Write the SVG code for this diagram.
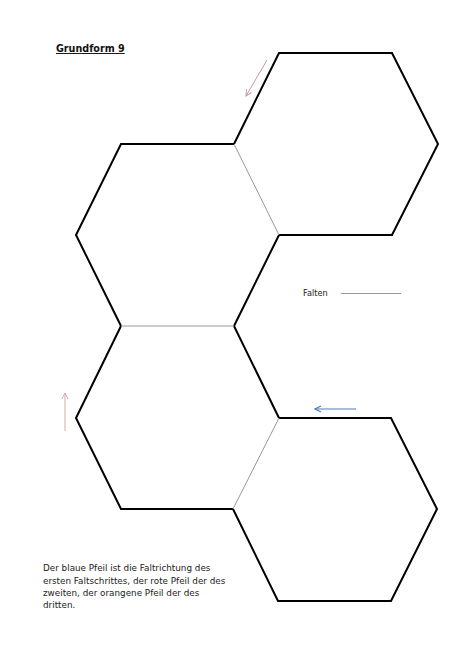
<svg xmlns="http://www.w3.org/2000/svg" width="474" height="670" viewBox="0 0 474 670">
<style>
.edge{fill:none;stroke:#000;stroke-width:2;stroke-linejoin:miter}
.fold{fill:none;stroke:#999;stroke-width:1}
.t{font-family:"DejaVu Sans",Verdana,sans-serif;font-size:8.2px;fill:#222}
.n{font-family:"DejaVu Sans",Verdana,sans-serif;font-size:8.8px;fill:#222}
</style>
<defs>
<marker id="ahR" markerWidth="8" markerHeight="8" refX="7" refY="4" orient="auto" markerUnits="userSpaceOnUse"><path d="M1,1 L7,4 L1,7" fill="none" stroke="#c49a9a" stroke-width="1"/></marker>
<marker id="ahP" markerWidth="8" markerHeight="8" refX="7" refY="4" orient="auto" markerUnits="userSpaceOnUse"><path d="M1,1 L7,4 L1,7" fill="none" stroke="#d9a9ac" stroke-width="1"/></marker>
<marker id="ahB" markerWidth="8" markerHeight="8" refX="7" refY="4" orient="auto" markerUnits="userSpaceOnUse"><path d="M1,1 L7,4 L1,7" fill="none" stroke="#4f7fb0" stroke-width="1.2"/></marker>
</defs>
<rect width="474" height="670" fill="#fff"/>
<text x="56" y="52" font-family="DejaVu Sans,Verdana,sans-serif" font-size="9.6" font-weight="bold" text-decoration="underline" fill="#111">Grundform 9</text>
<g id="hexA"><path class="edge" d="M234,144 L279,53 L392,53 L438,144 L392,235 L279,235"/></g>
<g id="hexB"><path class="edge" d="M234,144 L121,144 L76,235 L121,326 M234,326 L279,235"/></g>
<g id="hexC"><path class="edge" d="M121,326 L76,418 L121,509 L233,509 M234,326 L279,418"/></g>
<g id="hexD"><path class="edge" d="M279,418 L391,418 L437,509 L391,601 L278,601 L233,509"/></g>
<g id="connectors">
<line class="fold" x1="234" y1="144" x2="279" y2="235"/>
<line class="fold" x1="121" y1="326" x2="234" y2="326"/>
<line class="fold" x1="279" y1="418" x2="233" y2="509"/>
<line x1="267" y1="60" x2="246" y2="96" stroke="#c49a9a" stroke-width="1" marker-end="url(#ahR)"/>
<line x1="65" y1="431" x2="65" y2="393" stroke="#d9a9ac" stroke-width="1" marker-end="url(#ahP)"/>
<line x1="356" y1="409" x2="315" y2="409" stroke="#4f7fb0" stroke-width="1.2" marker-end="url(#ahB)"/>
</g>
<g id="legend">
<text class="t" x="303" y="296">Falten</text>
<line x1="341" y1="293.5" x2="401" y2="293.5" stroke="#999" stroke-width="1"/>
</g>
<g id="note">
<text class="n" x="43" y="571">Der blaue Pfeil ist die Faltrichtung des</text>
<text class="n" x="43" y="584">ersten Faltschrittes, der rote Pfeil der des</text>
<text class="n" x="43" y="596">zweiten, der orangene Pfeil der des</text>
<text class="n" x="43" y="608">dritten.</text>
</g>
</svg>
